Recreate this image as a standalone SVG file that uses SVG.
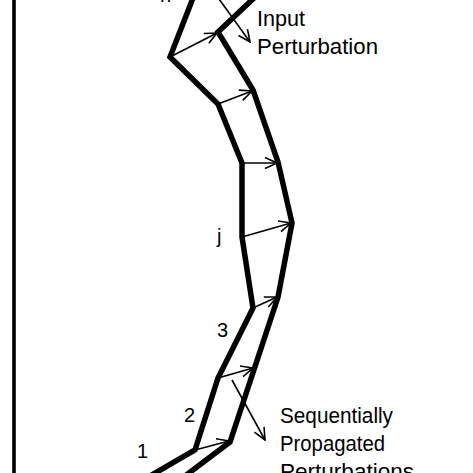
<svg xmlns="http://www.w3.org/2000/svg" width="473" height="473" viewBox="0 0 473 473">
<style>
.chain{fill:none;stroke:#000;stroke-width:5.5;stroke-linejoin:miter;stroke-linecap:butt}
.arr{fill:none;stroke:#000;stroke-width:1.6;marker-end:url(#ah)}
.lbl{font-family:"Liberation Sans",Arial,sans-serif;font-size:22px;fill:#000}
.idx{font-family:"Liberation Sans",Arial,sans-serif;font-size:20px;fill:#000}
</style>
<defs>
<marker id="ah" viewBox="0 0 14 14" refX="13" refY="7" markerWidth="14" markerHeight="14" markerUnits="userSpaceOnUse" orient="auto">
<path d="M1,1.5 L13,7 L1,12.5" fill="none" stroke="#000" stroke-width="1.6"/>
</marker>
</defs>
<rect width="473" height="473" fill="#fff"/>
<g id="border">
<line x1="14" y1="0" x2="14" y2="473" stroke="#000" stroke-width="3.6"/>
</g>
<g id="original-path">
<polyline class="chain" points="193,-2 170,57 218,104 242,163 242,237 253,308 218,378 195,450 150,476"/>
</g>
<g id="perturbed-path">
<polyline class="chain" points="254,-2 218,32 253,90 278,162 292,223 278,297 230,442 185,476"/>
</g>
<g id="connectors">
<line class="arr" x1="170" y1="57" x2="217" y2="33"/>
<line class="arr" x1="218" y1="104" x2="252" y2="91"/>
<line class="arr" x1="242" y1="163" x2="277" y2="163"/>
<line class="arr" x1="242" y1="237" x2="291" y2="223"/>
<line class="arr" x1="253" y1="308" x2="277" y2="297"/>
<line class="arr" x1="218" y1="378" x2="253" y2="368"/>
<line class="arr" x1="195" y1="450" x2="229" y2="441"/>
<line class="arr" x1="214" y1="-8" x2="250" y2="42"/>
<line class="arr" x1="232" y1="380" x2="265" y2="440"/>
</g>
<g id="labels">
<text class="idx" x="160" y="2">n</text>
<text class="idx" x="217" y="243">j</text>
<text class="idx" x="217" y="337">3</text>
<text class="idx" x="184" y="422">2</text>
<text class="idx" x="137" y="458">1</text>
<text class="lbl" x="257" y="26" textLength="48" lengthAdjust="spacingAndGlyphs">Input</text>
<text class="lbl" x="257" y="54" textLength="121" lengthAdjust="spacingAndGlyphs">Perturbation</text>
<text class="lbl" x="280" y="423" textLength="113" lengthAdjust="spacingAndGlyphs">Sequentially</text>
<text class="lbl" x="280" y="451" textLength="105" lengthAdjust="spacingAndGlyphs">Propagated</text>
<text class="lbl" x="280" y="479" textLength="134" lengthAdjust="spacingAndGlyphs">Perturbations</text>
</g>
</svg>
